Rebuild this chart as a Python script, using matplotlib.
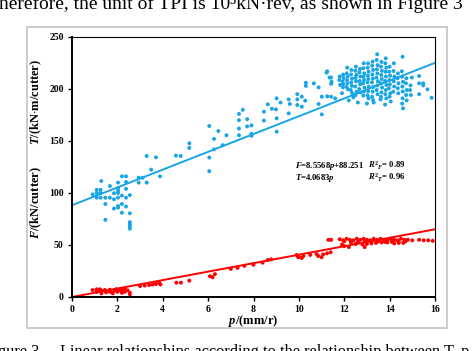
import matplotlib
matplotlib.use("Agg")
import matplotlib.pyplot as plt
from matplotlib.patches import Rectangle

plt.rcParams['font.family'] = ['Liberation Serif', 'DejaVu Serif']
plt.rcParams['mathtext.fontset'] = 'custom'
plt.rcParams['mathtext.rm'] = 'Liberation Serif:bold'
plt.rcParams['mathtext.it'] = 'Liberation Serif:italic:bold'
plt.rcParams['mathtext.bf'] = 'Liberation Serif:bold'

# ---------------- data ----------------
blue_pts = [
    (0.91, 98.7), (1.09, 103), (1.09, 100), (1.26, 103), (1.26, 100), (1.29, 111.5),
    (1.09, 95.5), (1.26, 95.5), (1.47, 95.5), (1.67, 95.5), (1.85, 94), (2.03, 95.5),
    (2.2, 97.5), (2.38, 95.5), (2.55, 98), (1.47, 89.4), (1.47, 74.3), (1.67, 106.7),
    (1.85, 99.7), (1.85, 85), (2.03, 110), (2.03, 104.5), (2.03, 102), (2.03, 100),
    (2.03, 87.5), (2.03, 86), (2.2, 116), (2.2, 89.4), (2.2, 81), (2.38, 116),
    (2.38, 110.6), (2.38, 104), (2.38, 87), (2.55, 80.5), (2.55, 72), (2.55, 70),
    (2.55, 68), (2.55, 65.7), (2.94, 114.7), (2.94, 110), (3.11, 114.7), (3.29, 135.6),
    (3.29, 110), (3.49, 122.4), (3.70, 134.3), (3.88, 116),
    (4.58, 136), (4.79, 135.6), (5.17, 147.8), (5.17, 143.3), (6.05, 164.4), (6.05, 134),
    (6.05, 121), (6.26, 152), (6.26, 142), (6.45, 159.6), (6.64, 146), (6.81, 155.5),
    (7.36, 176), (7.36, 170), (7.36, 162), (7.36, 155.5), (7.53, 180), (7.72, 171),
    (7.72, 164), (7.91, 165), (7.91, 157), (7.91, 155),
    (8.46, 178.2), (8.46, 169.6), (8.63, 185.3), (8.81, 181), (8.99, 180.4), (9.02, 191),
    (9.02, 171.8), (9.02, 159), (9.19, 187), (9.55, 190), (9.55, 176.6), (9.6, 185.6),
    (9.93, 195), (9.93, 190), (9.93, 184.6), (10.13, 192.6), (10.13, 183), (10.28, 188.8),
    (10.31, 206), (10.31, 203), (10.66, 205.4), (10.87, 201.6), (10.87, 185.6),
    (11.01, 192.6), (11.01, 175.6), (11.22, 215.7), (11.25, 193), (11.42, 211),
    (11.42, 205), (11.42, 192.6), (11.6, 191), (11.25, 217), (11.35, 211), (11.44, 207),
    (11.8, 212), (11.78, 208.6), (11.82, 204),
    (11.95, 213.8), (11.97, 210.6), (11.93, 207.4), (11.96, 204.8), (11.94, 201.6), (11.9, 196),
    (12.13, 220.5), (12.11, 215), (12.15, 212), (12.12, 208.6), (12.14, 205.5), (12.1, 202), (12.16, 199.7),
    (12.32, 218.3), (12.3, 214), (12.34, 210), (12.31, 206.4), (12.33, 203), (12.29, 199), (12.35, 196),
    (12.51, 221.5), (12.49, 217.5), (12.53, 213.5), (12.5, 210.6), (12.52, 207.4), (12.48, 202.4),
    (12.54, 197.4), (12.5, 194.2),
    (12.69, 219.2), (12.67, 216), (12.71, 212), (12.68, 207.7), (12.7, 204.5), (12.66, 200), (12.72, 196.8),
    (12.86, 224.7), (12.84, 220), (12.88, 215), (12.85, 212), (12.87, 208.7), (12.83, 205.5),
    (12.89, 201.4), (12.86, 197.4), (12.84, 193.6),
    (13.05, 224.7), (13.03, 220.5), (13.07, 216.6), (13.04, 212.8), (13.06, 209.6), (13.02, 206.4),
    (13.08, 202.2), (13.05, 198), (13.03, 194), (13.07, 191),
    (13.25, 226.3), (13.23, 222.4), (13.27, 218.3), (13.24, 214), (13.26, 210), (13.22, 206.4),
    (13.28, 202), (13.25, 197.4), (13.23, 192.6), (13.27, 189.4),
    (13.45, 233.4), (13.43, 227.9), (13.47, 223), (13.44, 219), (13.46, 215), (13.42, 211),
    (13.48, 207.4), (13.45, 203.4), (13.43, 199), (13.47, 195),
    (13.64, 226), (13.62, 221.5), (13.66, 217.5), (13.63, 213.5), (13.65, 209.6), (13.61, 205.5),
    (13.67, 201.4), (13.64, 196.8), (13.62, 192.6),
    (13.83, 229.5), (13.81, 224.7), (13.85, 220.5), (13.82, 216.6), (13.84, 212), (13.8, 207.7),
    (13.86, 203.8), (13.83, 199), (13.81, 195), (13.85, 191),
    (14.0, 221.5), (13.98, 216.6), (14.02, 212.8), (13.99, 208.7), (14.01, 204.5), (13.97, 200.7),
    (14.03, 195.9), (14.0, 192.6),
    (14.19, 224.7), (14.17, 217.3), (14.21, 212), (14.18, 207.4), (14.2, 202.4), (14.16, 197.4),
    (14.37, 215), (14.35, 210.3), (14.39, 205.5), (14.36, 200.7), (14.38, 195.9),
    (14.57, 231), (14.55, 211.8), (14.59, 207), (14.56, 202.4), (14.58, 197.6), (14.57, 191),
    (14.55, 186), (14.59, 181.4),
    (14.74, 210.3), (14.72, 205.5), (14.76, 199), (14.73, 194.2), (14.75, 189),
    (14.92, 203.4), (14.9, 199), (14.94, 194.2),
    (12.2, 189), (12.6, 187), (13.0, 186), (13.3, 187), (13.6, 190), (13.8, 185), (14.05, 188),
    (12.4, 192), (14.54, 217), (14.98, 211), (15.3, 212.5), (15.3, 205.5), (15.3, 195),
    (15.48, 205.5), (15.48, 203.5), (15.67, 199.7), (15.85, 191.6),
]
blue_x = [p[0] for p in blue_pts]
blue_y = [p[1] for p in blue_pts]

red_pts = [
    (0.91, 6.7), (1.09, 7.4), (1.09, 5), (1.23, 7.4), (1.3, 6), (1.45, 6.7), (1.5, 4.5),
    (1.67, 7), (1.67, 5), (1.78, 4.5), (1.89, 6.5), (1.95, 7.5), (2.0, 5), (2.11, 6.5),
    (2.2, 7), (2.33, 7.4), (2.33, 5), (2.45, 6.5), (2.55, 4.1), (2.55, 2.5), (1.3, 3.5),
    (1.8, 3.5), (2.2, 4),
    (3.0, 10.5), (3.2, 11), (3.4, 11.5), (3.55, 12), (3.7, 12.5), (3.85, 13.5), (3.9, 12),
    (4.6, 13.8), (4.8, 13.8), (5.17, 15.7), (6.08, 20), (6.2, 19), (6.3, 22),
    (7.0, 27), (7.3, 28), (7.6, 30), (8.0, 31), (8.4, 33),
    (8.63, 35.6), (8.78, 36.2), (9.9, 40.4), (9.97, 38.2), (10.2, 39.4), (10.78, 41.3),
    (10.85, 39.4), (11.0, 38.2), (11.07, 41),
    (10.0, 38.5), (10.13, 37.5), (10.5, 40.5), (11.24, 42), (11.4, 43),
    (11.3, 55), (11.42, 55),
    (11.8, 55.5), (11.95, 54.5), (12.1, 56), (12.25, 55), (12.4, 54.5), (12.55, 56),
    (12.7, 55), (12.85, 56), (13.0, 55), (13.15, 54.5), (13.3, 56), (13.45, 55),
    (13.6, 56), (13.75, 55), (13.9, 54.5), (14.05, 56), (14.2, 55), (14.35, 54.5),
    (14.5, 56), (14.65, 55), (14.8, 55), (15.3, 55), (15.5, 54.5), (15.7, 54.5), (15.9, 54),
    (12.0, 53.5), (12.3, 53.5), (12.6, 53), (12.9, 53.5), (13.2, 53), (13.5, 53.5),
    (13.8, 53), (14.1, 53.5), (14.4, 53), (14.7, 53.5), (15.0, 54.5),
    (11.9, 50.5), (12.0, 49), (12.2, 48), (12.3, 52), (12.5, 51), (12.8, 50.5), (12.9, 48),
    (13.0, 51), (13.2, 51.5), (13.4, 52), (13.65, 52.5), (13.9, 52.5), (14.1, 53),
    (14.2, 51.5), (14.4, 52), (14.6, 52),
]
red_x = [p[0] for p in red_pts]
red_y = [p[1] for p in red_pts]

T_slope, T_icpt = 8.5568, 88.251
F_slope = 4.0683
x_ticks = [0, 2, 4, 6, 8, 10, 12, 14, 16]
y_ticks = [0, 50, 100, 150, 200, 250]

# ---------------- figure ----------------
W, H = 474, 351
fig = plt.figure(figsize=(W / 100, H / 100), dpi=100)

def fx(px):
    return px / W

def fy(py):
    return 1 - py / H

# gray frame of the embedded figure
fig.patches.append(Rectangle((fx(27), fy(328)), fx(447) - fx(27), fy(27) - fy(328),
                             transform=fig.transFigure, fill=False,
                             edgecolor='#c8c8c8', lw=1.3))

ax = fig.add_axes([fx(72), fy(297), fx(435) - fx(72), fy(37) - fy(297)])
blue = '#17A5E6'
red = '#FF0000'
ax.scatter(blue_x, blue_y, s=8, color=blue, edgecolors='none', zorder=3)
ax.scatter(red_x, red_y, s=8, color=red, edgecolors='none', zorder=3)
ax.plot([0, 16], [T_icpt, T_icpt + T_slope * 16], color=blue, lw=1.4, zorder=2)
ax.plot([0, 16], [0, F_slope * 16], color=red, lw=1.4, zorder=2)

ax.set_xlim(0, 16)
ax.set_ylim(0, 250)
ax.set_xticks(x_ticks)
ax.set_yticks(y_ticks)
ax.set_xticklabels([str(v) for v in x_ticks], fontsize=7, fontweight='bold')
ax.set_yticklabels([str(v) for v in y_ticks], fontsize=7, fontweight='bold')
ax.tick_params(direction='out', length=3, width=1, pad=3)
for s in ['left', 'bottom']:
    ax.spines[s].set_linewidth(1.4)
for s in ['top', 'right']:
    ax.spines[s].set_linewidth(0.8)

fig.text(fx(253), fy(321), r'$p$/(mm/r)', fontsize=9, fontweight='bold', ha='center', va='center')
fig.text(fx(36), fy(102), r'$T$/(kN$\cdot$m/cutter)', fontsize=9, fontweight='bold',
         rotation=90, ha='center', va='center')
fig.text(fx(36), fy(203), r'$F$/(kN/cutter)', fontsize=9, fontweight='bold',
         rotation=90, ha='center', va='center')

fig.text(fx(295), fy(166), r'$F$=8.5568$p$+88.251', fontsize=6.2, fontweight='bold', va='center')
fig.text(fx(368), fy(166), r'$R^{2}{}_{F}$= 0.89', fontsize=6.2, fontweight='bold', va='center')
fig.text(fx(295), fy(178), r'$T$=4.0683$p$', fontsize=6.2, fontweight='bold', va='center')
fig.text(fx(368), fy(178), r'$R^{2}{}_{T}$= 0.96', fontsize=6.2, fontweight='bold', va='center')

fig.text(fx(-1), fy(9), 'herefore, the unit of TPI is 10\u00b3kN\u00b7rev, as shown in Figure 3',
         fontsize=14, va='baseline', ha='left')
fig.text(fx(-2), fy(356), 'gure 3.', fontsize=11.8, va='baseline', ha='left')
fig.text(fx(60), fy(356), 'Linear relationships according to the relationship between T, p and F',
         fontsize=11.8, va='baseline', ha='left')

fig.savefig('out.png', dpi=100)
